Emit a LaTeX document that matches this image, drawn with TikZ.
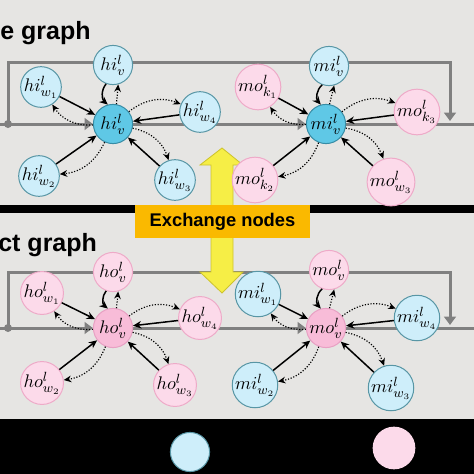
\documentclass[tikz,border=0pt]{standalone}
\usepackage{fontspec}
\newfontfamily\headfont{Liberation Sans}
\usetikzlibrary{arrows.meta, positioning}

\definecolor{panelgray}{RGB}{230,229,227}
\definecolor{linegray}{RGB}{128,128,128}
\definecolor{hifill}{RGB}{206,238,250}
\definecolor{hidraw}{RGB}{88,150,165}
\definecolor{hicfill}{RGB}{95,200,230}
\definecolor{hicdraw}{RGB}{55,140,165}
\definecolor{hofill}{RGB}{252,218,234}
\definecolor{hodraw}{RGB}{238,170,200}
\definecolor{hocfill}{RGB}{248,188,216}
\definecolor{hocdraw}{RGB}{232,160,195}
\definecolor{xorange}{RGB}{250,185,0}
\definecolor{xyellow}{RGB}{246,238,70}
\definecolor{xyelldraw}{RGB}{205,195,45}

\pgfdeclarelayer{background}
\pgfsetlayers{background,main}

\tikzset{
  bnode/.style={draw=hidraw, fill=hifill, circle, line width=0.6pt, minimum size=23.5pt, inner sep=0pt,
                font=\fontsize{11}{12}\selectfont},
  bcenter/.style={bnode, draw=hicdraw, fill=hicfill},
  pnode/.style={bnode, draw=hodraw, fill=hofill},
  pcenter/.style={bnode, draw=hocdraw, fill=hocfill},
  msg/.style={-{Stealth[length=5pt,width=4.5pt]}, line width=0.9pt},
  back/.style={-{Stealth[length=4.5pt,width=4pt]}, densely dotted, line width=0.7pt, bend left=30},
  loopline/.style={linegray, line width=1.8pt},
  looparrow/.style={loopline, -{Triangle[length=5pt,width=7pt]}},
  headtext/.style={anchor=base west, inner sep=0pt, font=\headfont\bfseries\fontsize{15}{17}\selectfont},
}

\begin{document}
\begin{tikzpicture}[x=0.6pt, y=-0.6pt]
    \useasboundingbox (0,0) rectangle (474,474);

    \node (title_top) [headtext] at (0,39) {e graph};
    \node (title_bot) [headtext] at (-2,251) {ct graph};

    % upper graph
    \node (hi_vT) [bnode]   at (113,65)  {$hi^l_v$};
    \node (hi_v)  [bcenter] at (113,124) {$hi^l_v$};
    \node (hi_w1) [bnode]   at (41,87)   {$hi^l_{w_1}$};
    \node (hi_w4) [bnode]   at (200,112) {$hi^l_{w_4}$};
    \node (hi_w2) [bnode]   at (39,176)  {$hi^l_{w_2}$};
    \node (hi_w3) [bnode]   at (175,180) {$hi^l_{w_3}$};

    \node (mi_vT) [bnode]   at (329,66)  {$mi^l_v$};
    \node (mi_v)  [bcenter] at (326,124) {$mi^l_v$};
    \node (mo_k1) [pnode]   at (258,87)  {$mo^l_{k_1}$};
    \node (mo_k3) [pnode]   at (417,112) {$mo^l_{k_3}$};
    \node (mo_k2) [pnode]   at (255,180) {$mo^l_{k_2}$};
    \node (mo_w3) [pnode]   at (391,182) {$mo^l_{w_3}$};

    % lower graph
    \node (ho_vT) [pnode]   at (113,272) {$ho^l_v$};
    \node (ho_v)  [pcenter] at (113,328) {$ho^l_v$};
    \node (ho_w1) [pnode]   at (42,293)  {$ho^l_{w_1}$};
    \node (ho_w4) [pnode]   at (200,318) {$ho^l_{w_4}$};
    \node (ho_w2) [pnode]   at (42,383)  {$ho^l_{w_2}$};
    \node (ho_w3) [pnode]   at (175,385) {$ho^l_{w_3}$};

    \node (mo_vT) [pnode]   at (329,270) {$mo^l_v$};
    \node (mo_v)  [pcenter] at (326,328) {$mo^l_v$};
    \node (mi_w1) [bnode]   at (258,294) {$mi^l_{w_1}$};
    \node (mi_w4) [bnode]   at (417,318) {$mi^l_{w_4}$};
    \node (mi_w2) [bnode]   at (255,385) {$mi^l_{w_2}$};
    \node (mi_w3) [bnode]   at (391,388) {$mi^l_{w_3}$};

    % legend circles
    \node (key_hi) [bnode, minimum size=23.5pt] at (190,452) {};
    \node (key_ho) [pnode, minimum size=25pt, draw=hofill] at (394,448) {};

    % messages
    \draw [msg]  (hi_w1) -- (hi_v);
    \draw [back] (hi_v) to (hi_w1);
    \draw [msg]  (hi_w4) -- (hi_v);
    \draw [back] (hi_v) to (hi_w4);
    \draw [msg]  (hi_w2) -- (hi_v);
    \draw [back] (hi_v) to (hi_w2);
    \draw [msg]  (hi_w3) -- (hi_v);
    \draw [back] (hi_v) to (hi_w3);
    \draw [msg]  (hi_vT.250) to [bend right=45] (hi_v.105);
    \draw [back] (hi_v.80) -- (hi_vT.285);

    \draw [msg]  (mo_k1) -- (mi_v);
    \draw [back] (mi_v) to (mo_k1);
    \draw [msg]  (mo_k3) -- (mi_v);
    \draw [back] (mi_v) to (mo_k3);
    \draw [msg]  (mo_k2) -- (mi_v);
    \draw [back] (mi_v) to (mo_k2);
    \draw [msg]  (mo_w3) -- (mi_v);
    \draw [back] (mi_v) to (mo_w3);
    \draw [msg]  (mi_vT.250) to [bend right=45] (mi_v.105);
    \draw [back] (mi_v.80) -- (mi_vT.285);

    \draw [msg]  (ho_w1) -- (ho_v);
    \draw [back] (ho_v) to (ho_w1);
    \draw [msg]  (ho_w4) -- (ho_v);
    \draw [back] (ho_v) to (ho_w4);
    \draw [msg]  (ho_w2) -- (ho_v);
    \draw [back] (ho_v) to (ho_w2);
    \draw [msg]  (ho_w3) -- (ho_v);
    \draw [back] (ho_v) to (ho_w3);
    \draw [msg]  (ho_vT.250) to [bend right=45] (ho_v.105);
    \draw [back] (ho_v.80) -- (ho_vT.285);

    \draw [msg]  (mi_w1) -- (mo_v);
    \draw [back] (mo_v) to (mi_w1);
    \draw [msg]  (mi_w4) -- (mo_v);
    \draw [back] (mo_v) to (mi_w4);
    \draw [msg]  (mi_w2) -- (mo_v);
    \draw [back] (mo_v) to (mi_w2);
    \draw [msg]  (mi_w3) -- (mo_v);
    \draw [back] (mo_v) to (mi_w3);
    \draw [msg]  (mo_vT.250) to [bend right=45] (mo_v.105);
    \draw [back] (mo_v.80) -- (mo_vT.285);

    \begin{pgfonlayer}{background}
    \fill [panelgray] (0,0) rectangle (474,419);
    \fill [black] (0,205) rectangle (474,213);
    \fill [black] (0,419) rectangle (474,474);

    % layer loops
    \coordinate (start_top) at (0,124);
    \coordinate (dot_top)   at (8,124);
    \coordinate (end_top)   at (474,124);
    \coordinate (down_top)  at (450,121);
    \draw [looparrow] (start_top) -- (hi_v);
    \draw [looparrow] (hi_v) -- (mi_v);
    \draw [loopline]  (mi_v) -- (end_top);
    \draw [looparrow] (dot_top) |- (450,62) -- (down_top);
    \fill [linegray] (dot_top) circle (2.4pt);

    \coordinate (start_bot) at (0,328);
    \coordinate (dot_bot)   at (8,328);
    \coordinate (end_bot)   at (474,328);
    \coordinate (down_bot)  at (450,325);
    \draw [looparrow] (start_bot) -- (ho_v);
    \draw [looparrow] (ho_v) -- (mo_v);
    \draw [loopline]  (mo_v) -- (end_bot);
    \draw [looparrow] (dot_bot) |- (450,272) -- (down_bot);
    \fill [linegray] (dot_bot) circle (2.4pt);

    % exchange arrow
    \filldraw [fill=xyellow, draw=xyelldraw, line width=0.5pt]
        (222,148) -- (243,165) -- (233,165) -- (233,272) -- (243,272) -- (222,293)
        -- (200,272) -- (211,272) -- (211,165) -- (200,165) -- cycle;
    \end{pgfonlayer}

    \node (exchange) [fill=xorange, inner sep=0pt, minimum width=105pt, minimum height=19.8pt,
        font=\headfont\bfseries\fontsize{11}{13}\selectfont] at (222.5,221.5) {Exchange nodes};

\end{tikzpicture}
\end{document}
